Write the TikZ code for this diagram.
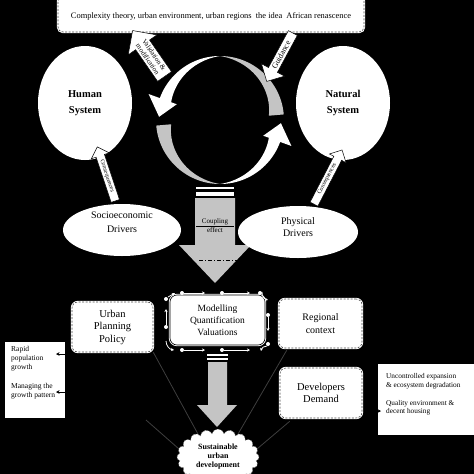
\documentclass[tikz,border=0pt]{standalone}
\usepackage{fontspec}
\setmainfont{Liberation Serif}
\usetikzlibrary{shapes.arrows,shapes.symbols,shapes.geometric,arrows.meta,calc}
\definecolor{lgray}{RGB}{196,196,196}
\definecolor{dline}{RGB}{62,62,62}
\begin{document}
\begin{tikzpicture}[x=1pt,y=-1pt,
  wbox/.style={rectangle, rounded corners=6pt, fill=white, draw=black!70, dash pattern=on 2pt off 1.5pt, line width=0.6pt, preaction={draw=white, solid, line width=2.4pt}, align=center, inner sep=0pt},
  sysell/.style={ellipse, fill=white, draw=none, inner sep=0pt, align=center},
  barrow/.style={single arrow, fill=white, draw=black, line width=0.5pt, inner xsep=1pt, single arrow head extend=#1, single arrow head indent=0pt, align=center},
  thinln/.style={draw=dline, line width=0.8pt},
  smallarr/.style={draw=black, line width=0.5pt, -{Stealth[length=3.5pt,width=3.5pt]}},
  dec/.style={draw=white, line width=0.8pt, -{Stealth[length=3pt,width=3pt]}},
  plain/.style={rectangle, fill=white, inner sep=0pt}
]
\useasboundingbox (0,0) rectangle (474,474);
\fill[black] (0,0) rectangle (474,474);

% top box
\node[wbox, rounded corners=5pt, minimum width=306pt, minimum height=36pt] (top) at (211,14) {};
\node[font=\fontsize{8.4}{9}\selectfont] (toptxt) at (211,16) {Complexity theory, urban environment, urban regions\ \ the idea\ \ African renascence};

% system ellipses
\node[sysell, minimum width=94pt, minimum height=114pt, font=\fontsize{10.5}{15.5}\selectfont\bfseries] (hs) at (85,103) {Human\\System};
\node[sysell, minimum width=94pt, minimum height=114pt, font=\fontsize{10.5}{15.5}\selectfont\bfseries] (ns) at (343,103) {Natural\\System};

% circular arrows
\fill[lgray] plot[domain=90:5,samples=40,variable=\t] ({220+64*cos(\t)},{120-64*sin(\t)})
  -- plot[domain=5:90,samples=40,variable=\t] ({220+(64-15*(90-\t)/85)*cos(\t)},{120-(64-15*(90-\t)/85)*sin(\t)}) -- cycle;
\fill[lgray] plot[domain=270:185,samples=40,variable=\t] ({220+64*cos(\t)},{120-64*sin(\t)})
  -- plot[domain=185:270,samples=40,variable=\t] ({220+(64-15*(270-\t)/85)*cos(\t)},{120-(64-15*(270-\t)/85)*sin(\t)}) -- cycle;
\fill[white] plot[domain=90:160,samples=40,variable=\t] ({220+64*cos(\t)},{120-64*sin(\t)})
  -- ({220+76*cos(160)},{120-76*sin(160)}) -- ({220+61*cos(177)},{120-61*sin(177)}) -- ({220+46*cos(160)},{120-46*sin(160)})
  -- plot[domain=160:90,samples=40,variable=\t] ({220+(64-12*(\t-90)/70)*cos(\t)},{120-(64-12*(\t-90)/70)*sin(\t)}) -- cycle;
\fill[white] plot[domain=-90:-20,samples=40,variable=\t] ({220+64*cos(\t)},{120-64*sin(\t)})
  -- ({220+76*cos(-20)},{120-76*sin(-20)}) -- ({220+61*cos(-3)},{120-61*sin(-3)}) -- ({220+46*cos(-20)},{120-46*sin(-20)})
  -- plot[domain=-20:-90,samples=40,variable=\t] ({220+(64-12*(\t+90)/70)*cos(\t)},{120-(64-12*(\t+90)/70)*sin(\t)}) -- cycle;

% coupling arrow
\fill[white] (196,186.5) rectangle (234,189);
\fill[white] (196,192) rectangle (234,195.5);
\fill[lgray] (195,198) -- (235,198) -- (235,245) -- (251,245) -- (215,283) -- (179,245) -- (195,245) -- cycle;
\draw[black, line width=0.6pt] (196,226) -- (234,226);
\node[font=\fontsize{7}{9}\selectfont, align=center, inner sep=0pt] (coup) at (215,226) {Coupling\\effect};
\draw[black, dash pattern=on 4pt off 2pt on 1pt off 2pt, line width=0.8pt] (199,260) -- (240,260);

% drivers
\node[sysell, minimum width=118pt, minimum height=52pt, label={[font=\fontsize{10}{14}\selectfont, align=center, yshift=8pt]center:Socioeconomic\\Drivers}] (sed) at (122,230) {};
\node[sysell, minimum width=120pt, minimum height=52pt, label={[font=\fontsize{10}{12}\selectfont, align=center, yshift=5pt]center:Physical\\Drivers}] (pd) at (298,232) {};

% block arrows with labels
\node[barrow=5pt, rotate=-71.6, shape border rotate=180, minimum height=57pt, font=\fontsize{6}{6}\selectfont, inner ysep=1.5pt] (cl) at (107,176) {Consequences};
\node[barrow=5pt, rotate=62.6, minimum height=61pt, font=\fontsize{6}{6}\selectfont, inner ysep=1.5pt] (cr) at (327,179) {Consequences};
\node[barrow=9pt, rotate=-55.2, shape border rotate=180, minimum height=56pt, font=\fontsize{7}{7.5}\selectfont, inner ysep=2pt] (val) at (151,57) {Validation \&\\modification};
\node[barrow=8pt, rotate=61.6, shape border rotate=180, minimum height=55pt, font=\fontsize{8}{8}\selectfont, inner ysep=2pt] (gui) at (281,55) {Guidance};

% middle boxes
\node[wbox, minimum width=81pt, minimum height=50pt, font=\fontsize{10.5}{12.5}\selectfont] (upp) at (112.5,327) {Urban\\Planning\\Policy};
\node[wbox, minimum width=83pt, minimum height=49pt, font=\fontsize{10}{13}\selectfont] (reg) at (320.5,323.5) {Regional\\context};
\node[wbox, minimum width=82pt, minimum height=50pt, font=\fontsize{10.5}{12}\selectfont] (dev) at (321,393) {Developers\\Demand};
\node[rectangle, rounded corners=7pt, fill=white, draw=black, line width=0.6pt, preaction={draw=white, line width=2.4pt}, minimum width=95pt, minimum height=50pt, align=center, inner sep=0pt, font=\fontsize{9.5}{12}\selectfont] (mod) at (217.5,320) {Modelling\\Quantification\\Valuations};

% decorations around the modelling box
\fill[white] (182,293) circle (2) (222,293) circle (2) (260,293) circle (2) (268,315) circle (2) (268,344) circle (2)
  (182,350) circle (2) (222,350) circle (2) (166,327) circle (2) (166,299) circle (2);
\draw[dec] (184,293) -- (205,293);
\draw[dec] (224,293) -- (250,293);
\draw[dec] (262,292) to[bend right=40] (268,300);
\draw[dec] (268,317) -- (268,331);
\draw[dec] (267,346) to[bend right=40] (261,351);
\draw[dec] (184,350) -- (205,350);
\draw[dec] (224,350) -- (250,350);
\draw[dec] (166,341) to[bend right=40] (174,350);
\draw[dec] (166,325) -- (166,309);
\draw[dec] (168,297) -- (175,293);

% lower gray arrow
\fill[white] (207,354) rectangle (228,356);
\fill[white] (207,358) rectangle (228,360);
\fill[lgray] (208,362) -- (227,362) -- (227,405) -- (237,405) -- (217,427) -- (197,405) -- (208,405) -- cycle;

% side boxes
\node[plain, minimum width=60pt, minimum height=76pt] (rpg) at (35,380) {};
\node[anchor=west, align=left, inner sep=0pt, font=\fontsize{7.5}{9}\selectfont] (rpg1) at (11,359) {Rapid\\population\\growth};
\node[anchor=west, align=left, inner sep=0pt, font=\fontsize{7.5}{8.5}\selectfont] (rpg2) at (11,391) {Managing the\\growth pattern};
\coordinate (ra1s) at (65,354); \coordinate (ra1e) at (56,354);
\coordinate (ra2s) at (65,392); \coordinate (ra2e) at (56,392);
\draw[smallarr] (ra1s) -- (ra1e);
\draw[smallarr] (ra2s) -- (ra2e);

\node[plain, anchor=north west, minimum width=100pt, minimum height=71pt] (ued) at (378,364) {};
\node[anchor=west, align=left, inner sep=0pt, font=\fontsize{7.3}{8.5}\selectfont] (ued1) at (386,381) {Uncontrolled expansion\\\& ecosystem degradation};
\node[anchor=west, align=left, inner sep=0pt, font=\fontsize{7.3}{8.5}\selectfont] (ued2) at (386,407.5) {Quality environment \&\\decent housing};
\coordinate (rbs) at (370,411); \coordinate (rbe) at (381,411);
\draw[smallarr] (rbs) -- (rbe);

% cloud
\node[cloud, cloud puffs=20, cloud puff arc=150, cloud ignores aspect, fill=white, draw=black!60, dash pattern=on 1.5pt off 1.5pt, line width=0.5pt, minimum width=82pt, minimum height=56pt, inner sep=0pt, align=center, font=\fontsize{8}{9}\selectfont\bfseries] (sud) at (218,457) {Sustainable\\urban\\development};

% thin connectors
\coordinate (lfree) at (146,420);
\draw[thinln] (upp.south east) -- (sud.131);
\draw[thinln] (lfree) -- (sud.168);
\draw[thinln] ($(reg.south west)+(8,2)$) -- (sud.49);
\draw[thinln] ($(dev.south west)+(10,3)$) -- (sud.12);
\end{tikzpicture}
\end{document}
